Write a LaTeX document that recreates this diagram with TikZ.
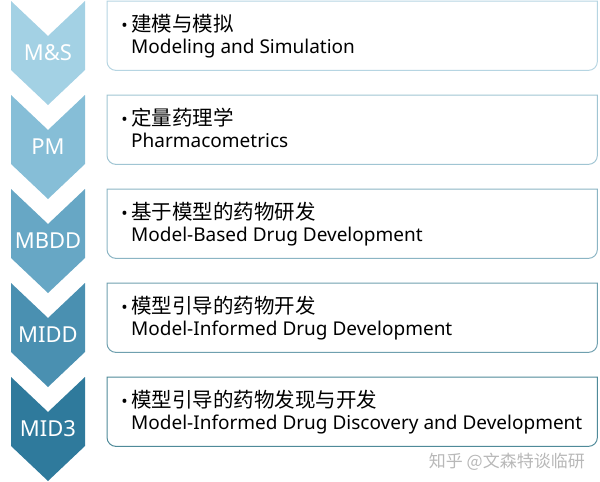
\documentclass[tikz,border=0pt]{standalone}
\usepackage{fontspec}
\setmainfont{Noto Sans}
\newfontfamily\cjk{Noto Sans CJK SC}
\usetikzlibrary{positioning}
\definecolor{msc}{HTML}{A3D1E4}
\definecolor{pmc}{HTML}{86BED7}
\definecolor{mbc}{HTML}{67A7C5}
\definecolor{mic}{HTML}{4A90B1}
\definecolor{mdc}{HTML}{2F7A9C}
\definecolor{bd1}{HTML}{B6D5E2}
\definecolor{bd2}{HTML}{A0C5D3}
\definecolor{bd3}{HTML}{8BB5C4}
\definecolor{bd4}{HTML}{6FA0AF}
\definecolor{bd5}{HTML}{4F8A99}

\begin{document}
\begin{tikzpicture}[x=1pt,y=-1pt,
    lab/.style={text=white, inner sep=0pt, font=\fontsize{22}{22}\selectfont},
    card/.style={draw=#1, line width=1pt, fill=white},
    slot/.style={minimum width=490pt, minimum height=69pt, anchor=north west, inner sep=0pt},
    zh/.style={anchor=base west, inner sep=0pt, font=\cjk\fontsize{20.5}{20.5}\selectfont},
    en/.style={anchor=base west, inner sep=0pt, font=\fontsize{19}{19}\selectfont},
    dot/.style={anchor=base east, inner sep=0pt, font=\fontsize{17}{17}\selectfont}]
    \useasboundingbox (0,0) rectangle (600,482);

    % chevrons
    \fill[msc] (11,1) -- (48,36) -- (85,1) -- (85,70) -- (48,105) -- (11,70) -- cycle;
    \fill[pmc] (11,95) -- (48,130) -- (85,95) -- (85,164) -- (48,199) -- (11,164) -- cycle;
    \fill[mbc] (11,189) -- (48,224) -- (85,189) -- (85,258) -- (48,293) -- (11,258) -- cycle;
    \fill[mic] (11,283) -- (48,318) -- (85,283) -- (85,352) -- (48,387) -- (11,352) -- cycle;
    \fill[mdc] (11,377) -- (48,412) -- (85,377) -- (85,446) -- (48,481) -- (11,446) -- cycle;

    \node[lab] (L1) at (48,53) {M\&S};
    \node[lab] (L2) at (48,147) {PM};
    \node[lab] (L3) at (48,241) {MBDD};
    \node[lab] (L4) at (48,335) {MIDD};
    \node[lab] (L5) at (48,429) {MID3};

    % boxes
    \node[slot] (B1) at (107,1) {};
    \draw[card=bd1] (B1.north west) -- (B1.north east) [rounded corners=9pt] -- (B1.south east) -- (B1.south west) [sharp corners] -- cycle;
    \node[slot] (B2) at (107,95) {};
    \draw[card=bd2] (B2.north west) -- (B2.north east) [rounded corners=9pt] -- (B2.south east) -- (B2.south west) [sharp corners] -- cycle;
    \node[slot] (B3) at (107,189) {};
    \draw[card=bd3] (B3.north west) -- (B3.north east) [rounded corners=9pt] -- (B3.south east) -- (B3.south west) [sharp corners] -- cycle;
    \node[slot] (B4) at (107,283) {};
    \draw[card=bd4] (B4.north west) -- (B4.north east) [rounded corners=9pt] -- (B4.south east) -- (B4.south west) [sharp corners] -- cycle;
    \node[slot] (B5) at (107,377) {};
    \draw[card=bd5] (B5.north west) -- (B5.north east) [rounded corners=9pt] -- (B5.south east) -- (B5.south west) [sharp corners] -- cycle;

    % texts
    \node[zh] (Z1) at (131,31) {建模与模拟};
    \node[dot] (D1) at (128,31) {•};
    \node[en] (E1) at (131,53) {Modeling and Simulation};

    \node[zh] (Z2) at (131,125) {定量药理学};
    \node[dot] (D2) at (128,125) {•};
    \node[en] (E2) at (131,147) {Pharmacometrics};

    \node[zh] (Z3) at (131,219) {基于模型的药物研发};
    \node[dot] (D3) at (128,219) {•};
    \node[en] (E3) at (131,241) {Model-Based Drug Development};

    \node[zh] (Z4) at (131,313) {模型引导的药物开发};
    \node[dot] (D4) at (128,313) {•};
    \node[en] (E4) at (131,335) {Model-Informed Drug Development};

    \node[zh] (Z5) at (131,407) {模型引导的药物发现与开发};
    \node[dot] (D5) at (128,407) {•};
    \node[en] (E5) at (131,429) {Model-Informed Drug Discovery and Development};

    % watermark
    \node[anchor=base east, inner sep=0pt, text=black!28, font=\cjk\fontsize{17}{17}\selectfont] (W) at (585,467) {知乎 @文森特谈临研};
\end{tikzpicture}
\end{document}
